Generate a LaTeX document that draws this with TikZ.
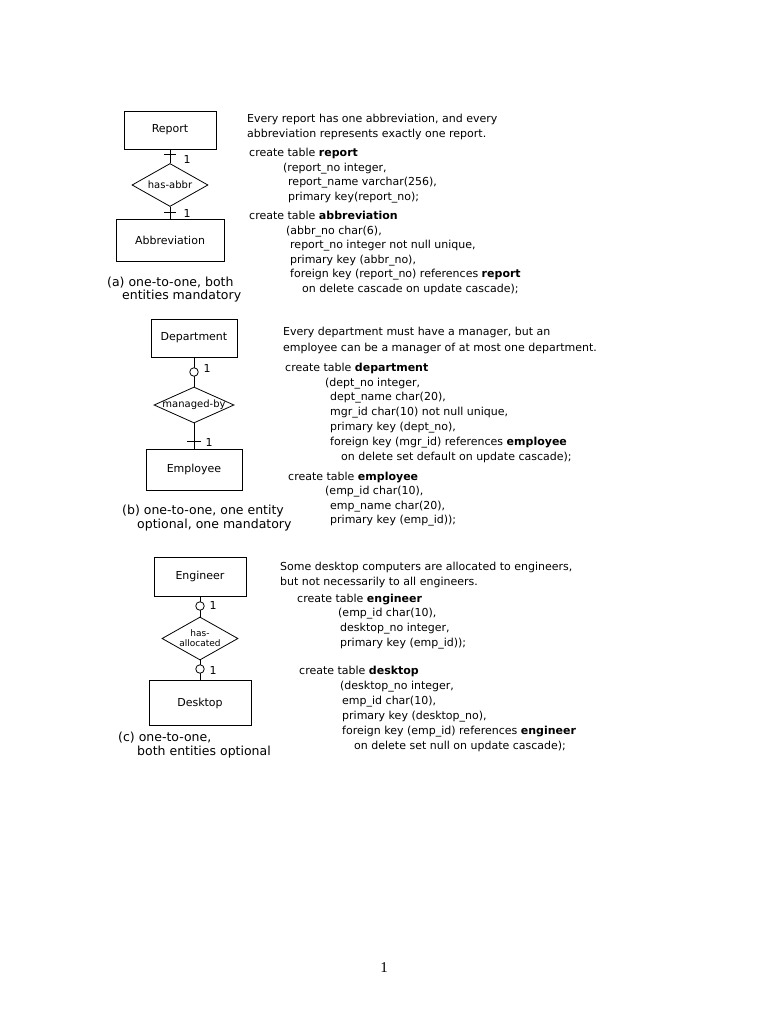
\documentclass[tikz,border=0pt]{standalone}
\usepackage{fontspec}
\setmainfont{DejaVu Sans}
\newfontfamily\pagefont{Liberation Serif}
\usetikzlibrary{shapes.geometric}
\begin{document}
\begin{tikzpicture}[x=1pt,y=-1pt,
  every node/.style={font=\fontsize{11}{13}\selectfont},
  txt/.style={anchor=base west,inner sep=0pt},
  captxt/.style={anchor=base west,inner sep=0pt,font=\fontsize{12.5}{14}\selectfont},
  ent/.style={draw,line width=0.8pt,inner sep=0pt},
  rel/.style={draw,line width=0.8pt,shape=diamond,inner sep=0pt},
  rlab/.style={inner sep=0pt,font=\fontsize{10}{11}\selectfont,align=center},
  opt/.style={draw,circle,line width=0.8pt,fill=white,inner sep=0pt,minimum size=8.5pt},
  card/.style={inner sep=0pt,font=\fontsize{11}{12}\selectfont},
  conn/.style={line width=0.8pt},
]
\useasboundingbox (0,0) rectangle (768,1024);
\fill[white] (0,0) rectangle (768,1024);

% ---------------- (a)
\node[ent,minimum width=92pt,minimum height=38pt] (rep) at (170,130) {Report};
\node[rel,minimum width=76pt,minimum height=43pt] (hab) at (170,185) {};
\node[rlab] (habl) at (hab.center) {has-abbr};
\node[ent,minimum width=108pt,minimum height=42pt] (abb) at (170,240) {Abbreviation};
\draw[conn] (rep.south) -- (hab.north);
\draw[conn] (hab.south) -- (abb.north);
\coordinate (ta1) at (170,154);
\coordinate (ta2) at (170,212);
\draw[conn] ([xshift=-6pt]ta1) -- ([xshift=6pt]ta1);
\draw[conn] ([xshift=-6pt]ta2) -- ([xshift=6pt]ta2);
\node[card] (ca1) at (187,159) {1};
\node[card] (ca2) at (187,213) {1};
\node[captxt] (capa1) at (107,286) {(a) one-to-one, both};
\node[captxt] (capa2) at (122,299) {entities mandatory};

\node[txt] (a1) at (247,123) {Every report has one abbreviation, and every};
\node[txt] (a2) at (247,138) {abbreviation represents exactly one report.};
\node[txt] (a3) at (249,157) {create table \textbf{report}};
\node[txt] (a4) at (283,172) {(report\_no integer,};
\node[txt] (a5) at (288,186) {report\_name varchar(256),};
\node[txt] (a6) at (288,201) {primary key(report\_no);};
\node[txt] (a7) at (249,219) {create table \textbf{abbreviation}};
\node[txt] (a8) at (286,234) {(abbr\_no char(6),};
\node[txt] (a9) at (290,248) {report\_no integer not null unique,};
\node[txt] (a10) at (290,263) {primary key (abbr\_no),};
\node[txt] (a11) at (290,277) {foreign key (report\_no) references \textbf{report}};
\node[txt] (a12) at (302,292) {on delete cascade on update cascade);};

% ---------------- (b)
\node[ent,minimum width=86pt,minimum height=38pt] (dep) at (194,338) {Department};
\node[rel,minimum width=80pt,minimum height=36pt] (mby) at (194,405) {};
\node[rlab] (mbyl) at (mby.center) {managed-by};
\node[ent,minimum width=96pt,minimum height=41pt] (emp) at (194,469.5) {Employee};
\draw[conn] (dep.south) -- (mby.north);
\draw[conn] (mby.south) -- (emp.north);
\node[opt] (ob1) at (194,372) {};
\coordinate (tb2) at (194,441);
\draw[conn] ([xshift=-7pt]tb2) -- ([xshift=7pt]tb2);
\node[card] (cb1) at (207,368) {1};
\node[card] (cb2) at (209,442) {1};
\node[captxt] (capb1) at (122,514) {(b) one-to-one, one entity};
\node[captxt] (capb2) at (137,528) {optional, one mandatory};

\node[txt] (b1) at (283,335) {Every department must have a manager, but an};
\node[txt] (b2) at (283,351) {employee can be a manager of at most one department.};
\node[txt] (b3) at (285,371) {create table \textbf{department}};
\node[txt] (b4) at (325,386) {(dept\_no integer,};
\node[txt] (b5) at (330,400) {dept\_name char(20),};
\node[txt] (b6) at (330,415) {mgr\_id char(10) not null unique,};
\node[txt] (b7) at (330,430) {primary key (dept\_no),};
\node[txt] (b8) at (330,445) {foreign key (mgr\_id) references \textbf{employee}};
\node[txt] (b9) at (341,460) {on delete set default on update cascade);};
\node[txt] (b10) at (288,480) {create table \textbf{employee}};
\node[txt] (b11) at (325,494) {(emp\_id char(10),};
\node[txt] (b12) at (330,509) {emp\_name char(20),};
\node[txt] (b13) at (330,523) {primary key (emp\_id));};

% ---------------- (c)
\node[ent,minimum width=92pt,minimum height=39pt] (eng) at (200,576.5) {Engineer};
\node[rel,minimum width=76pt,minimum height=43pt] (hal) at (200,638.5) {};
\node[rlab,font=\fontsize{9}{10}\selectfont] (hall) at (hal.center) {has-\\allocated};
\node[ent,minimum width=102pt,minimum height=45pt] (dsk) at (200,703) {Desktop};
\draw[conn] (eng.south) -- (hal.north);
\draw[conn] (hal.south) -- (dsk.north);
\node[opt] (oc1) at (200,606) {};
\node[opt] (oc2) at (200,669) {};
\node[card] (cc1) at (213,605) {1};
\node[card] (cc2) at (213,670) {1};
\node[captxt] (capc1) at (118,741) {(c) one-to-one,};
\node[captxt] (capc2) at (137,755) {both entities optional};

\node[txt] (c1) at (280,570) {Some desktop computers are allocated to engineers,};
\node[txt] (c2) at (280,585) {but not necessarily to all engineers.};
\node[txt] (c3) at (297,602) {create table \textbf{engineer}};
\node[txt] (c4) at (338,616) {(emp\_id char(10),};
\node[txt] (c5) at (340,631) {desktop\_no integer,};
\node[txt] (c6) at (340,646) {primary key (emp\_id));};
\node[txt] (c7) at (299,674) {create table \textbf{desktop}};
\node[txt] (c8) at (340,689) {(desktop\_no integer,};
\node[txt] (c9) at (342,704) {emp\_id char(10),};
\node[txt] (c10) at (342,719) {primary key (desktop\_no),};
\node[txt] (c11) at (342,734) {foreign key (emp\_id) references \textbf{engineer}};
\node[txt] (c12) at (354,749) {on delete set null on update cascade);};

\node[inner sep=0pt,font=\pagefont\fontsize{15}{17}\selectfont] (pg) at (384,968) {1};
\end{tikzpicture}
\end{document}
